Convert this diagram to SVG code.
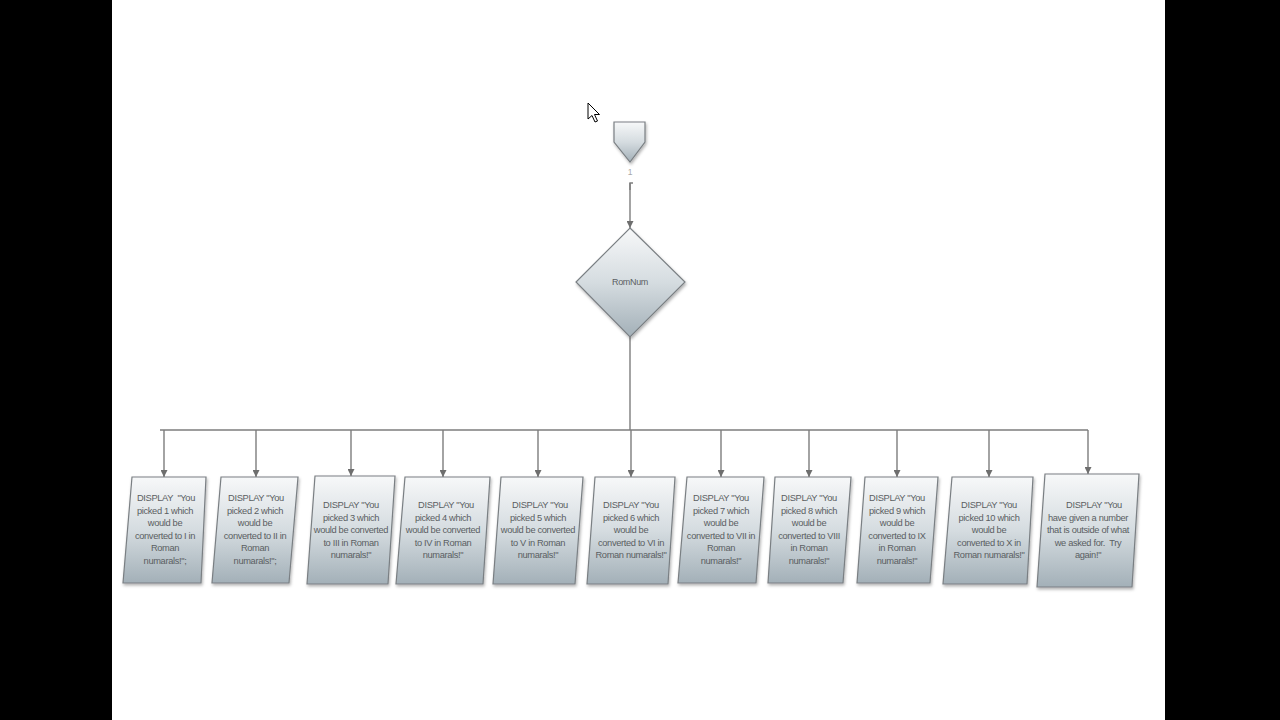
<svg xmlns="http://www.w3.org/2000/svg" width="1280" height="720" viewBox="0 0 1280 720">
<style>
.shape{fill:url(#g);stroke:#7a7f83;stroke-width:1.2;filter:url(#sh)}
.t{font-family:"Liberation Sans",Arial,sans-serif;font-size:9.3px;letter-spacing:-0.35px;fill:#5a5e62;text-anchor:middle;white-space:pre}
.c{fill:none;stroke:#7d7d7d;stroke-width:1.4}
</style>
<defs>
<linearGradient id="g" x1="0" y1="0" x2="0" y2="1">
<stop offset="0" stop-color="#f7f8f9"/>
<stop offset="0.5" stop-color="#d5dce0"/>
<stop offset="1" stop-color="#a3b0b8"/>
</linearGradient>
<filter id="sh" x="-20%" y="-20%" width="140%" height="140%">
<feDropShadow dx="1" dy="2" stdDeviation="1.5" flood-color="#000" flood-opacity="0.3"/>
</filter>
<marker id="a" viewBox="0 0 10 10" refX="10" refY="5" markerWidth="7" markerHeight="7" markerUnits="userSpaceOnUse" orient="auto">
<path d="M0,0 L10,5 L0,10 Z" fill="#6e6e6e"/>
</marker>
</defs>
<rect x="0" y="0" width="1280" height="720" fill="#ffffff"/>
<rect x="0" y="0" width="112" height="720" fill="#000"/>
<rect x="1165" y="0" width="115" height="720" fill="#000"/>

<g id="connectors">
<path class="c" d="M630,190 L630,183 L633,183"/>
<line class="c" x1="630" y1="183" x2="630" y2="228" marker-end="url(#a)"/>
<line class="c" x1="630" y1="337" x2="630" y2="430"/>
<line class="c" x1="160" y1="430" x2="1088" y2="430"/>
<line class="c" x1="164" y1="430" x2="164" y2="477" marker-end="url(#a)"/>
<line class="c" x1="256" y1="430" x2="256" y2="477" marker-end="url(#a)"/>
<line class="c" x1="351" y1="430" x2="351" y2="476" marker-end="url(#a)"/>
<line class="c" x1="443" y1="430" x2="443" y2="477" marker-end="url(#a)"/>
<line class="c" x1="538" y1="430" x2="538" y2="477" marker-end="url(#a)"/>
<line class="c" x1="631" y1="430" x2="631" y2="477" marker-end="url(#a)"/>
<line class="c" x1="721" y1="430" x2="721" y2="477" marker-end="url(#a)"/>
<line class="c" x1="809" y1="430" x2="809" y2="477" marker-end="url(#a)"/>
<line class="c" x1="897" y1="430" x2="897" y2="477" marker-end="url(#a)"/>
<line class="c" x1="989" y1="430" x2="989" y2="477" marker-end="url(#a)"/>
<line class="c" x1="1088" y1="430" x2="1088" y2="474" marker-end="url(#a)"/>
</g>

<g id="offpage">
<polygon class="shape" points="614,122 645,122 645,142 630,162 614,142"/>
<text class="t" x="630" y="175" style="font-size:8.5px;fill:#a8a8a8">1</text>
</g>

<g id="romnum">
<polygon class="shape" points="630,228 685,282 630,337 576,282"/>
<text class="t" x="630" y="285" style="font-size:9px">RomNum</text>
</g>

<g id="n1">
<polygon class="shape" points="132,477 206,477 201,583 123,583"/>
<text class="t" x="165" y="501"><tspan x="166">DISPLAY  "You</tspan><tspan x="165" dy="12.6">picked 1 which</tspan><tspan x="165" dy="12.6">would be</tspan><tspan x="165" dy="12.6">converted to I in</tspan><tspan x="165" dy="12.6">Roman</tspan><tspan x="165" dy="12.6">numarals!";</tspan></text>
</g>
<g id="n2">
<polygon class="shape" points="221,477 298,477 289,583 212,583"/>
<text class="t" x="255" y="501"><tspan x="256">DISPLAY "You</tspan><tspan x="255" dy="12.6">picked 2 which</tspan><tspan x="255" dy="12.6">would be</tspan><tspan x="255" dy="12.6">converted to II in</tspan><tspan x="255" dy="12.6">Roman</tspan><tspan x="255" dy="12.6">numarals!";</tspan></text>
</g>
<g id="n3">
<polygon class="shape" points="315,476 395,476 388,584 307,584"/>
<text class="t" x="351" y="508"><tspan x="351">DISPLAY "You</tspan><tspan x="351" dy="12.6">picked 3 which</tspan><tspan x="351" dy="12.6">would be converted</tspan><tspan x="351" dy="12.6">to III in Roman</tspan><tspan x="351" dy="12.6">numarals!"</tspan></text>
</g>
<g id="n4">
<polygon class="shape" points="405,477 490,477 483,584 396,584"/>
<text class="t" x="443" y="508"><tspan x="446">DISPLAY "You</tspan><tspan x="443" dy="12.6">picked 4 which</tspan><tspan x="443" dy="12.6">would be converted</tspan><tspan x="443" dy="12.6">to IV in Roman</tspan><tspan x="443" dy="12.6">numarals!"</tspan></text>
</g>
<g id="n5">
<polygon class="shape" points="501,477 583,477 575,584 493,584"/>
<text class="t" x="538" y="508"><tspan x="540">DISPLAY "You</tspan><tspan x="538" dy="12.6">picked 5 which</tspan><tspan x="538" dy="12.6">would be converted</tspan><tspan x="538" dy="12.6">to V in Roman</tspan><tspan x="538" dy="12.6">numarals!"</tspan></text>
</g>
<g id="n6">
<polygon class="shape" points="595,477 675,477 668,584 587,584"/>
<text class="t" x="631" y="508"><tspan x="631">DISPLAY "You</tspan><tspan x="631" dy="12.6">picked 6 which</tspan><tspan x="631" dy="12.6">would be</tspan><tspan x="631" dy="12.6">converted to VI in</tspan><tspan x="631" dy="12.6">Roman numarals!"</tspan></text>
</g>
<g id="n7">
<polygon class="shape" points="687,477 764,477 756,583 678,583"/>
<text class="t" x="721" y="501"><tspan x="721">DISPLAY "You</tspan><tspan x="721" dy="12.6">picked 7 which</tspan><tspan x="721" dy="12.6">would be</tspan><tspan x="721" dy="12.6">converted to VII in</tspan><tspan x="721" dy="12.6">Roman</tspan><tspan x="721" dy="12.6">numarals!"</tspan></text>
</g>
<g id="n8">
<polygon class="shape" points="775,477 851,477 843,583 768,583"/>
<text class="t" x="809" y="501"><tspan x="809">DISPLAY "You</tspan><tspan x="809" dy="12.6">picked 8 which</tspan><tspan x="809" dy="12.6">would be</tspan><tspan x="809" dy="12.6">converted to VIII</tspan><tspan x="809" dy="12.6">in Roman</tspan><tspan x="809" dy="12.6">numarals!"</tspan></text>
</g>
<g id="n9">
<polygon class="shape" points="865,477 938,477 930,583 857,583"/>
<text class="t" x="897" y="501"><tspan x="897">DISPLAY "You</tspan><tspan x="897" dy="12.6">picked 9 which</tspan><tspan x="897" dy="12.6">would be</tspan><tspan x="897" dy="12.6">converted to IX</tspan><tspan x="897" dy="12.6">in Roman</tspan><tspan x="897" dy="12.6">numarals!"</tspan></text>
</g>
<g id="n10">
<polygon class="shape" points="952,477 1033,477 1027,584 943,584"/>
<text class="t" x="989" y="508"><tspan x="989">DISPLAY "You</tspan><tspan x="989" dy="12.6">picked 10 which</tspan><tspan x="989" dy="12.6">would be</tspan><tspan x="989" dy="12.6">converted to X in</tspan><tspan x="989" dy="12.6">Roman numarals!"</tspan></text>
</g>
<g id="n11">
<polygon class="shape" points="1045,474 1139,474 1132,587 1037,587"/>
<text class="t" x="1088" y="508"><tspan x="1094">DISPLAY "You</tspan><tspan x="1088" dy="12.6">have given a number</tspan><tspan x="1088" dy="12.6">that is outside of what</tspan><tspan x="1088" dy="12.6">we asked for.  Try</tspan><tspan x="1088" dy="12.6">again!"</tspan></text>
</g>

<polygon points="588,103 588,119 592,115.5 595,122 597.5,121 594.5,114.5 599.5,114.5 Z" fill="#fff" stroke="#000" stroke-width="1"/>
</svg>
